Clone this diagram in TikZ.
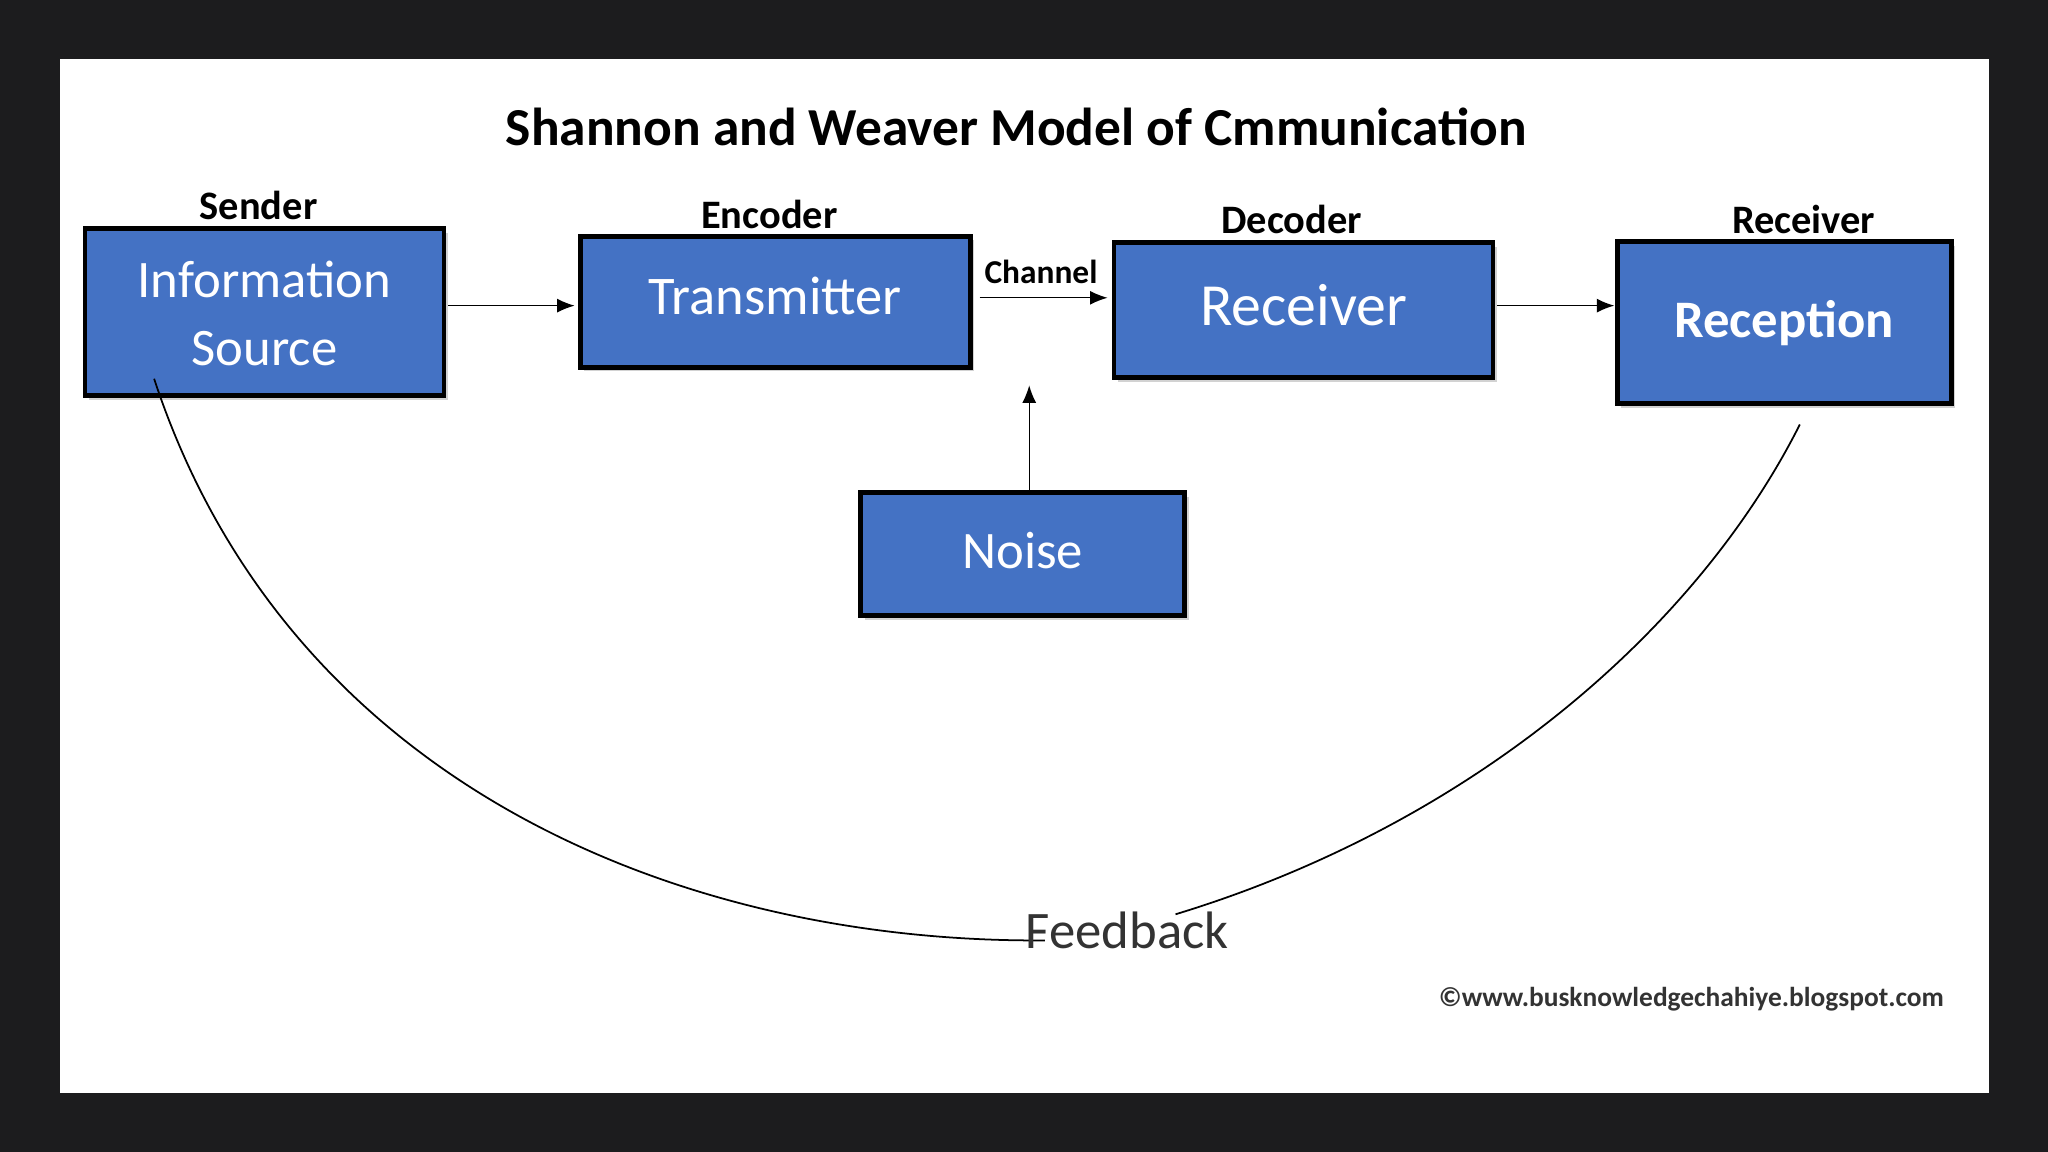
\documentclass[tikz,border=0pt]{standalone}
\usepackage{fontspec}
\setmainfont{Carlito}
\usetikzlibrary{arrows.meta,shadows}
\begin{document}
\begin{tikzpicture}[x=0.013061cm,y=-0.013061cm,
 box/.style={draw=black,line width=1.4pt,fill=blueF,text=white,inner sep=0pt,drop shadow={shadow xshift=1.2pt,shadow yshift=-1.2pt,opacity=0.35}},
 lab/.style={font=\fontsize{11.5}{13}\selectfont\bfseries},
 arr/.style={-{Latex[length=5pt,width=4pt]},line width=0.4pt}]
\definecolor{blueF}{HTML}{4472C4}
\definecolor{bgD}{HTML}{1C1C1E}
\useasboundingbox (0,0) rectangle (1568,882);
\fill[bgD] (0,0) rectangle (1568,882);
\fill[white] (46,45) rectangle (1523,837);
\node (title) at (778,97) {\fontsize{15.2}{17}\selectfont\bfseries Shannon and Weaver Model of Cmmunication};
\node[box,minimum width=3.59cm,minimum height=1.67cm] (info) at (202.5,239) {};
\node[text=white,align=center,font=\fontsize{15}{19.6}\selectfont] (infot) at (202.5,240) {Information\\Source};
\node[box,minimum width=3.9cm,minimum height=1.31cm,font=\fontsize{15.5}{17}\selectfont] (tx) at (593.5,231) {\raisebox{3.2pt}{Transmitter}};
\node[box,minimum width=3.79cm,minimum height=1.35cm,font=\fontsize{17}{19}\selectfont] (rx) at (998,237.5) {\raisebox{2.8pt}{Receiver}};
\node[box,minimum width=3.34cm,minimum height=1.62cm,font=\fontsize{15}{17}\selectfont\bfseries] (rec) at (1366,247) {\raisebox{1.5pt}{Reception}};
\node[box,minimum width=3.24cm,minimum height=1.23cm,font=\fontsize{15}{17}\selectfont] (noise) at (783,424) {\raisebox{2.2pt}{Noise}};
\node[lab] (l1) at (198,157) {Sender};
\node[lab] (l2) at (589,164) {Encoder};
\node[lab] (l3) at (989,168) {Decoder};
\node[lab] (l4) at (1381,168) {Receiver};
\node[font=\fontsize{9.5}{11}\selectfont\bfseries] (l5) at (797,208) {Channel};
\coordinate (a1) at (343,234); \coordinate (a2) at (440,234);
\coordinate (b1) at (750,228); \coordinate (b2) at (848,228);
\coordinate (c1) at (1146,234); \coordinate (c2) at (1236,234);
\coordinate (n2) at (788,295);
\draw[arr] (a1) -- (a2);
\draw[arr] (b1) -- (b2);
\draw[arr] (c1) -- (c2);
\draw[arr] (noise.north -| n2) -- (n2);
\coordinate (f1) at (118,290); \coordinate (f2) at (800,720);
\coordinate (f3) at (900,700); \coordinate (f4) at (1378,325);
\draw[line width=0.5pt] (f1) .. controls (220,600) and (520,722) .. (f2);
\draw[line width=0.5pt] (f3) .. controls (1130,630) and (1300,480) .. (f4);
\node[font=\fontsize{15}{17}\selectfont,text=black!80] (fb) at (863,712) {Feedback};
\node[font=\fontsize{7.8}{9}\selectfont\bfseries,text=black!80] (cp) at (1295,765) {©www.busknowledgechahiye.blogspot.com};
\end{tikzpicture}
\end{document}
